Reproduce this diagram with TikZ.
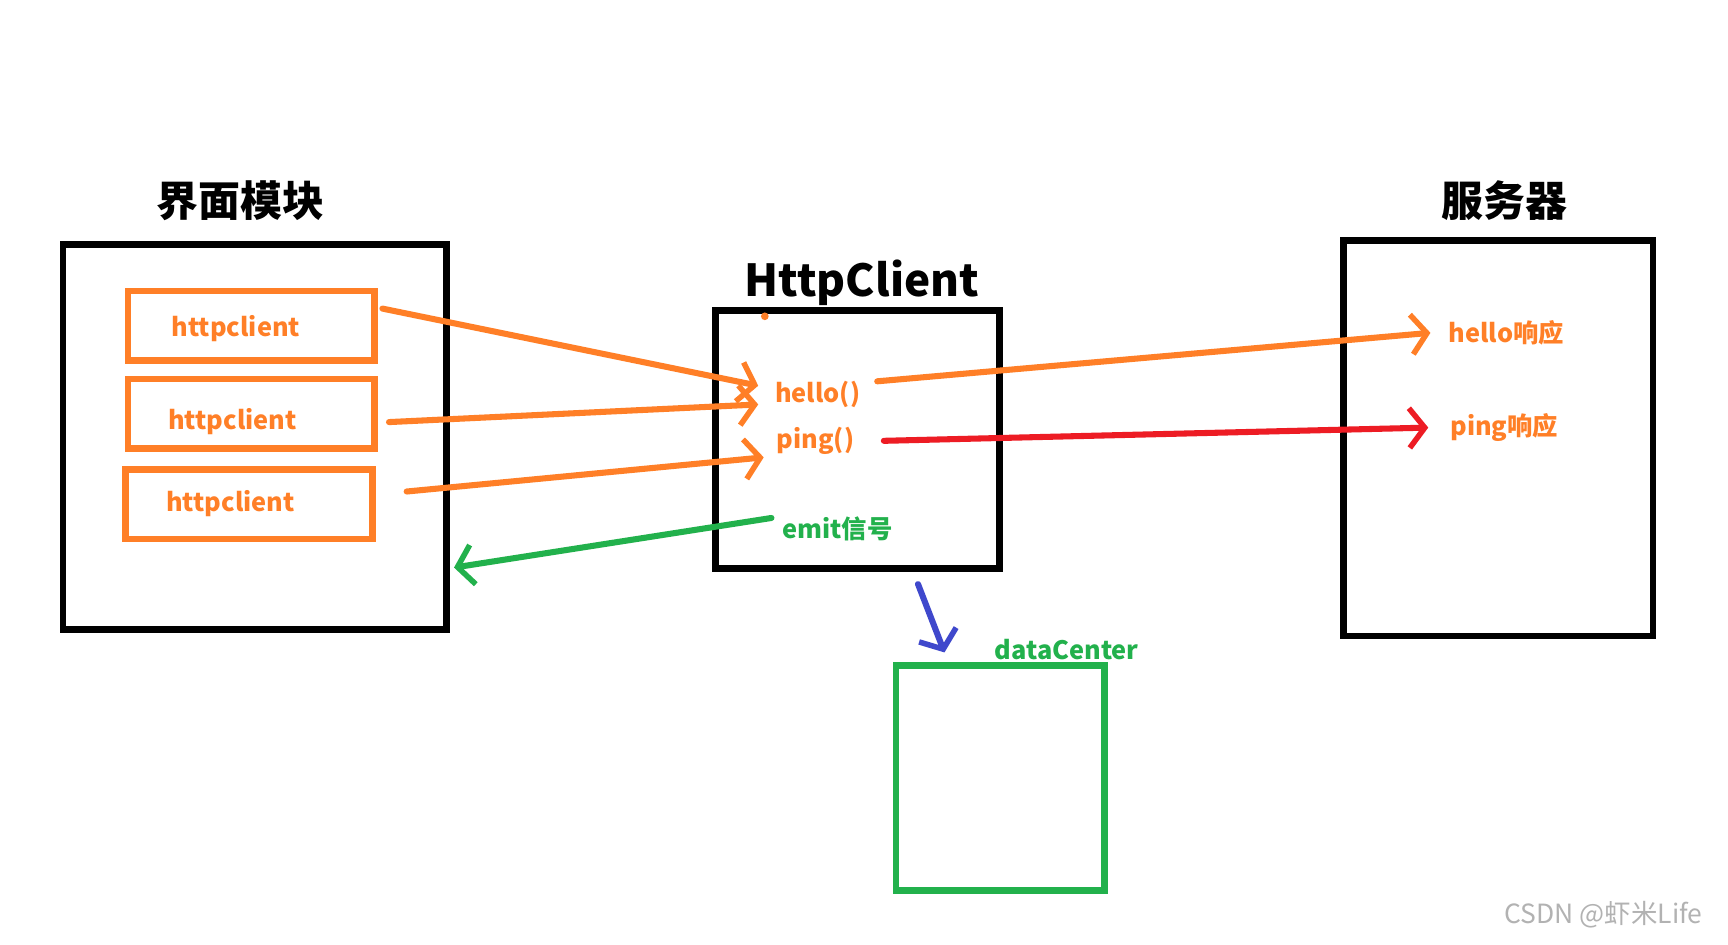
\documentclass[tikz,border=0pt]{standalone}
\usepackage{fontspec}
\setmainfont{Noto Sans CJK SC}
\usetikzlibrary{arrows.meta}
\definecolor{org}{RGB}{255,127,39}
\definecolor{grn}{RGB}{34,177,76}
\definecolor{rd}{RGB}{237,28,36}
\definecolor{blu}{RGB}{63,72,204}
\begin{document}
\begin{tikzpicture}[x=1pt,y=-1pt,
  box/.style={draw=black,line width=6pt},
  obox/.style={draw=org,line width=6pt},
  lbl/.style={font=\bfseries\fontsize{23}{24}\selectfont},
  ttl/.style={font=\bfseries\fontsize{38}{40}\selectfont},
  arr/.style={line width=5.5pt,line cap=round,-{Straight Barb[length=14pt,width=36pt,line width=5pt]}}]
\useasboundingbox (0,0) rectangle (1568,857);
\fill[white] (0,0) rectangle (1568,857);
\node[ttl] (t1) at (218,182) {界面模块};
\node[ttl] (t2) at (1365,182) {服务器};
\node[font=\bfseries\fontsize{40}{42}\selectfont] (t3) at (782,257) {HttpClient};
\draw[box] (57,222) rectangle (405,571);
\draw[box] (649,282) rectangle (907,516);
\draw[box] (1219,218) rectangle (1500,577);
\draw[draw=grn,line width=6pt] (813,604) rectangle (1002,808);
\draw[obox] (116,264) rectangle (340,327);
\draw[obox] (116,344) rectangle (340,407);
\draw[obox] (114,426) rectangle (338,489);
\node[lbl,text=org] (c1) at (214,298) {httpclient};
\node[lbl,text=org] (c2) at (211,383) {httpclient};
\node[lbl,text=org] (c3) at (209,457) {httpclient};
\node[lbl,text=org] (h) at (742,358) {hello()};
\node[lbl,text=org] (p) at (740,400) {ping()};
\node[lbl,text=grn] (e) at (760,480) {emit信号};
\node[lbl,text=org] (hr) at (1367,302) {hello响应};
\node[lbl,text=org] (pr) at (1365,388) {ping响应};
\node[lbl,text=grn] (dc) at (968,589) {dataCenter};
\fill[org] (694,287) circle (3.5);
\coordinate (a1) at (347,280); \coordinate (b1) at (688,350);
\coordinate (a2) at (353,383); \coordinate (b2) at (688,367);
\coordinate (a3) at (369,446); \coordinate (b3) at (693,415);
\draw[arr,org] (a1) -- (b1);
\draw[arr,org] (a2) -- (b2);
\draw[arr,org] (a3) -- (b3);
\coordinate (a4) at (796,346); \coordinate (b4) at (1298,302);
\draw[arr,org] (a4) -- (b4);
\coordinate (a5) at (802,400); \coordinate (b5) at (1296,388);
\draw[arr,rd] (a5) -- (b5);
\coordinate (a6) at (700,470); \coordinate (b6) at (412,515);
\draw[arr,grn] (a6) -- (b6);
\coordinate (a7) at (833,530); \coordinate (b7) at (857,592);
\draw[arr,blu] (a7) -- (b7);
\node[text=black!30,font=\fontsize{24}{26}\selectfont] (wm) at (1455,830) {CSDN @虾米Life};
\end{tikzpicture}
\end{document}
